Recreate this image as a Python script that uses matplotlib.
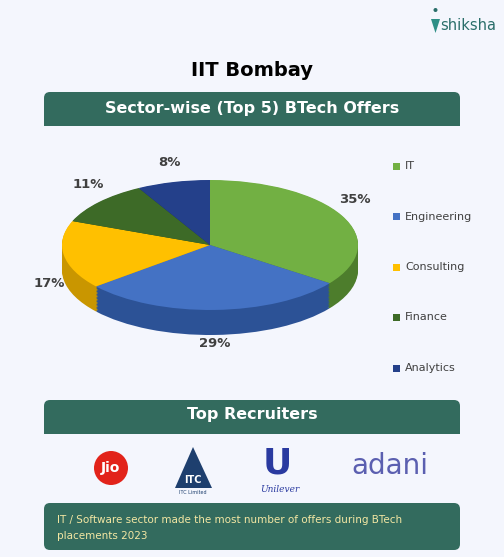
import numpy as np
import matplotlib.pyplot as plt
from matplotlib.patches import FancyBboxPatch, Circle, Polygon

# Data
sectors = ['IT', 'Engineering', 'Consulting', 'Finance', 'Analytics']
shares = [35, 29, 17, 11, 8]
colors = ['#72b043', '#4472c4', '#ffc000', '#3d6a27', '#24408a']
dark = ['#4d7d2c', '#2c5296', '#c99600', '#27461a', '#16295c']
recruiters = ['Jio', 'ITC', 'Unilever', 'adani']

W, H = 504, 557
bg = '#f4f6fd'
green = '#336b5e'
fig = plt.figure(figsize=(W / 100, H / 100), dpi=100, facecolor=bg)
base = fig.add_axes([0, 0, 1, 1])
base.set_xlim(0, W)
base.set_ylim(H, 0)
base.axis('off')

def panel(x0, y0, x1, y1, round_bottom=False):
    base.add_patch(FancyBboxPatch((x0, y0), x1 - x0, y1 - y0,
                                  boxstyle='round,pad=0,rounding_size=6',
                                  fc=green, ec='none'))
    if not round_bottom:
        base.add_patch(plt.Rectangle((x0, y1 - 8), x1 - x0, 8, fc=green, ec='none'))

# shiksha logo
base.text(440, 26, 'shiksha', fontsize=10.5, color='#2a6e6a', ha='left', va='center')
base.add_patch(Polygon([[431, 19], [440, 19], [435.5, 33]], fc='#2f8f86', ec='none'))
base.add_patch(Circle((435.5, 10), 2, fc='#2a6e6a'))

base.text(252, 70, 'IIT Bombay', fontsize=14, fontweight='bold', ha='center', va='center')

panel(44, 92, 460, 126)
base.text(252, 109, 'Sector-wise (Top 5) BTech Offers', fontsize=11.5, color='white',
          fontweight='bold', ha='center', va='center')

# 3D-ish pie
ax = fig.add_axes([62 / W, 1 - 335 / H, 296 / W, 155 / H])
depth = 0.385
for off in np.linspace(depth, 0.01, 18):
    ax.pie(shares, colors=dark, startangle=90, counterclock=False, radius=1,
           center=(0, -off), frame=True)
ax.pie(shares, colors=colors, startangle=90, counterclock=False, radius=1,
       center=(0, 0), frame=True)
ax.set_aspect('auto')
ax.set_xlim(-1, 1)
ax.set_ylim(-1 - depth, 1)
ax.axis('off')

cum = np.cumsum([0] + shares)
for i, s in enumerate(shares):
    mid = np.deg2rad(90 - 3.6 * (cum[i] + s / 2))
    r = 1.1
    dy = -depth * 1.1 if np.sin(mid) < 0 else 0.2
    ax.text(r * np.cos(mid), r * np.sin(mid) + dy, f'{s}%', fontsize=9.5,
            fontweight='bold', color='#404040', ha='center', va='center', clip_on=False)

# legend
for i, name in enumerate(sectors):
    y = 166 + i * 50.5
    base.add_patch(plt.Rectangle((393, y - 3.5), 7, 7, fc=colors[i], ec='none'))
    base.text(405, y, name, fontsize=8, color='#404040', va='center')

panel(44, 400, 460, 434)
base.text(252, 414, 'Top Recruiters', fontsize=11.5, color='white', fontweight='bold',
          ha='center', va='center')

# recruiter logos
base.add_patch(Circle((111, 468), 17, fc='#e2231a', ec='none'))
base.text(111, 468, recruiters[0], color='white', fontsize=10, fontweight='bold',
          ha='center', va='center')
base.add_patch(Polygon([[193, 447], [175, 488], [212, 488]], fc='#1e3f6e', ec='none'))
base.text(193, 480, recruiters[1], color='white', fontsize=7, fontweight='bold',
          ha='center', va='center')
base.text(193, 493, 'ITC Limited', fontsize=3.5, color='#1e3f6e', ha='center', va='center')
base.text(277, 463, 'U', fontsize=26, color='#2a3aa0', fontweight='bold', ha='center',
          va='center')
base.text(280, 489, recruiters[2], fontsize=6.5, color='#2a3aa0', style='italic',
          ha='center', va='center', family='DejaVu Serif')
base.text(390, 466, recruiters[3], fontsize=20, color='#5b5fb0', ha='center', va='center')

panel(44, 503, 460, 550, round_bottom=True)
base.text(57, 520, 'IT / Software sector made the most number of offers during BTech',
          fontsize=7.5, color='#f3e7a3', va='center')
base.text(57, 536, 'placements 2023', fontsize=7.5, color='#f3e7a3', va='center')

fig.savefig('out.png', dpi=100, facecolor=bg)
